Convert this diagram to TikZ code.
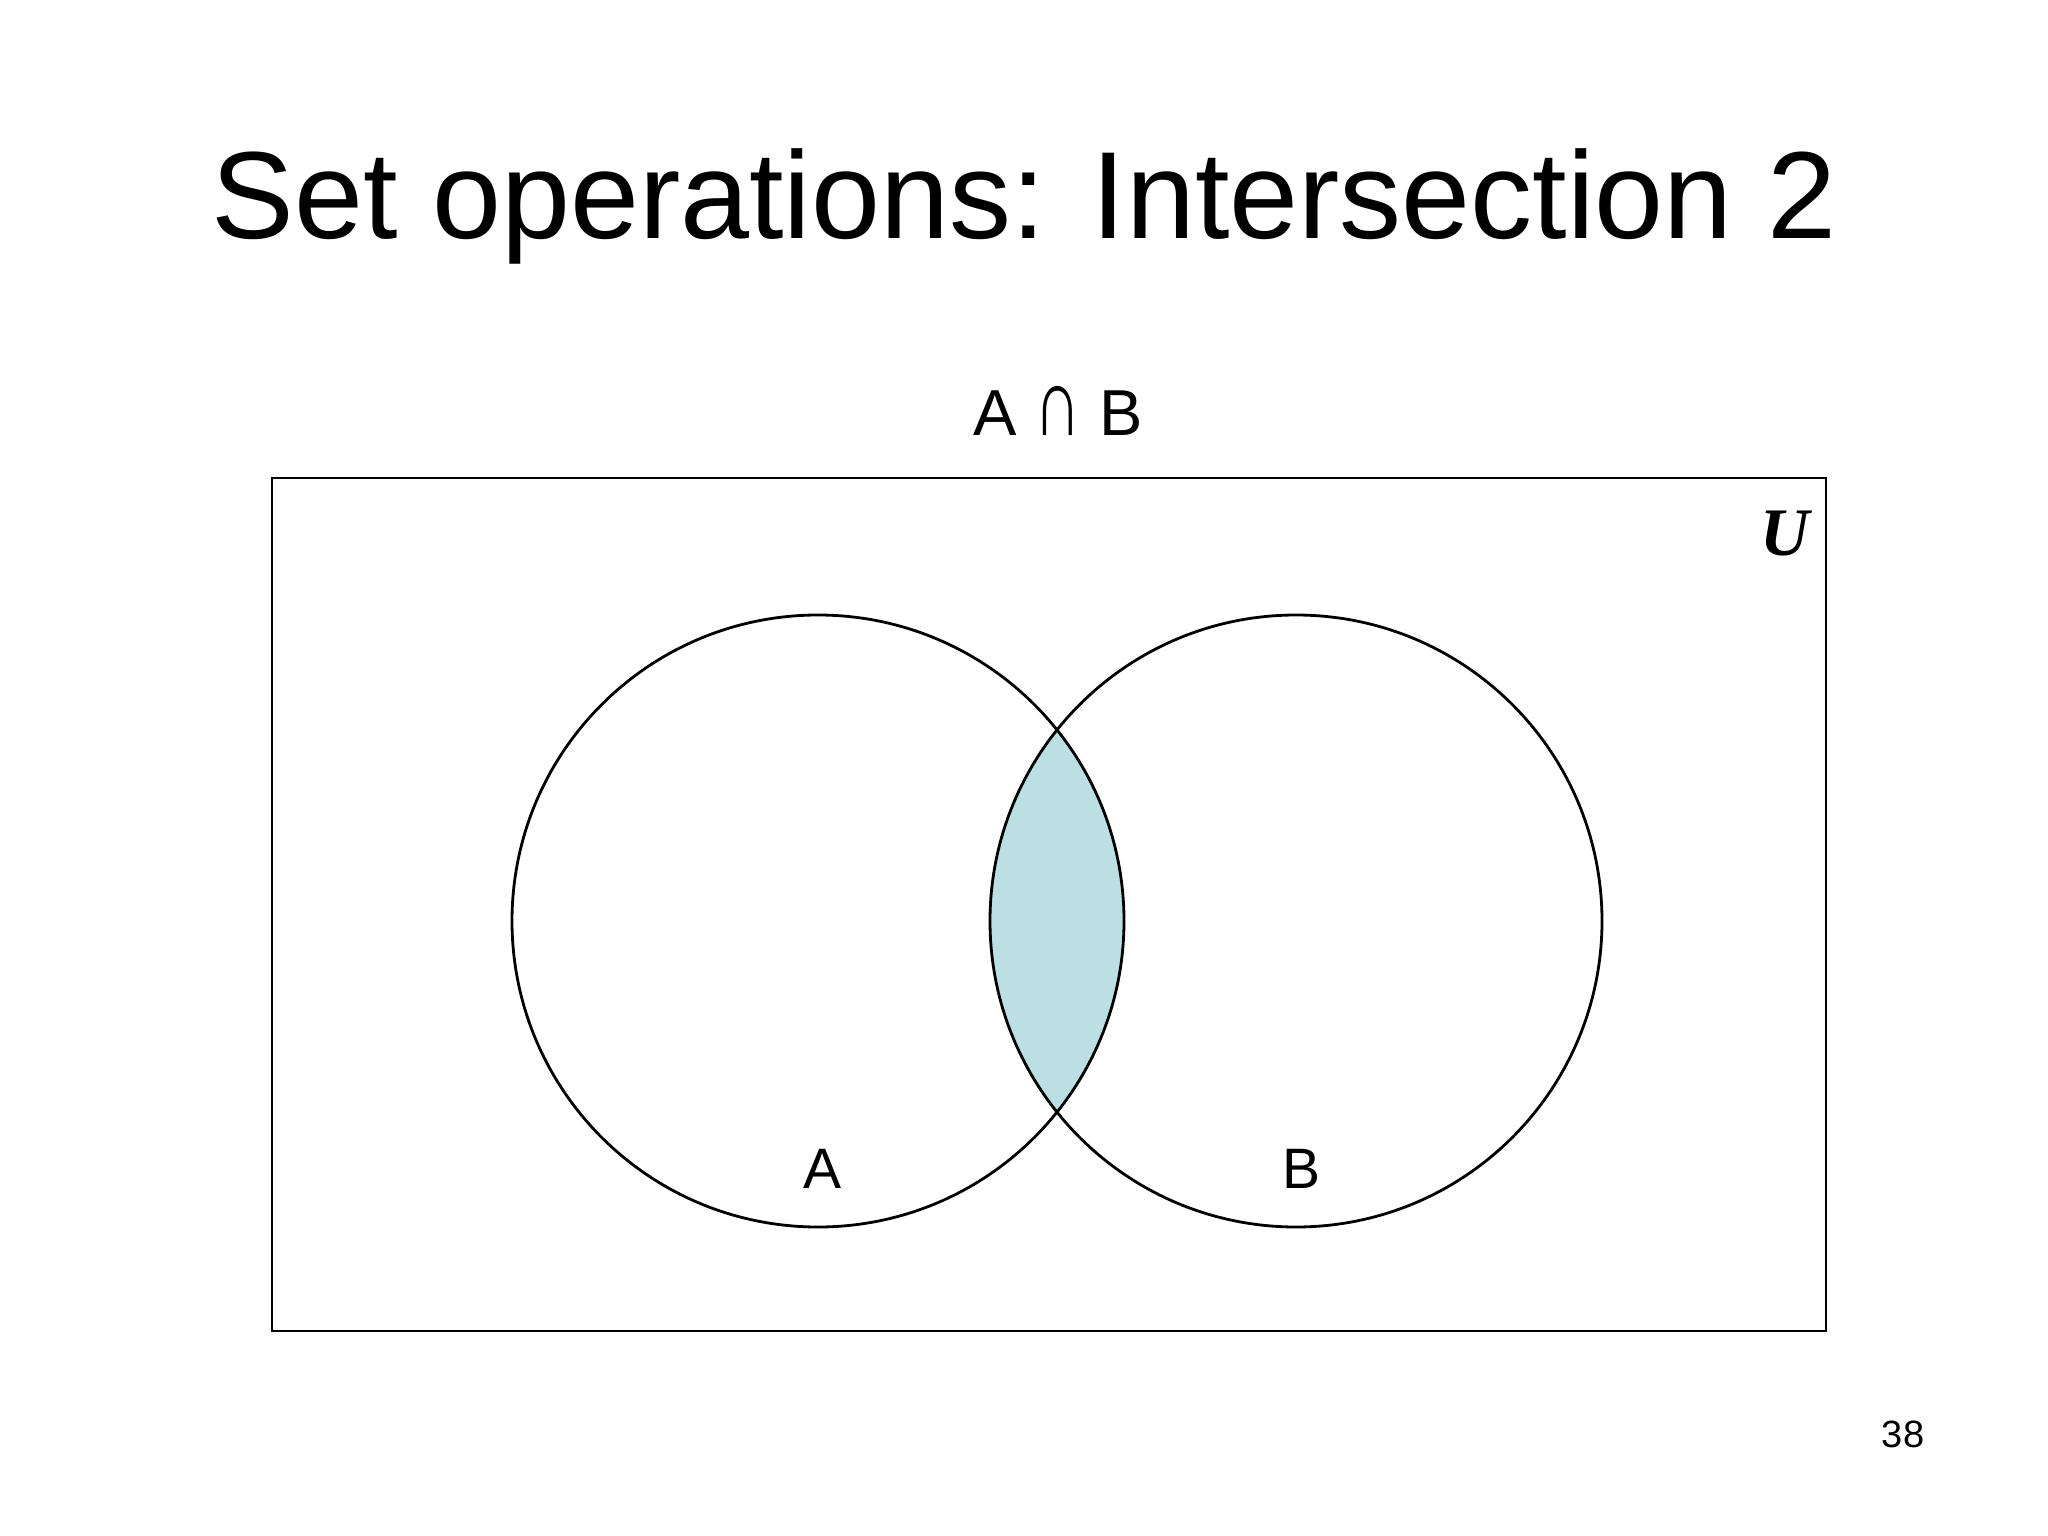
\documentclass[tikz,border=0pt]{standalone}
\usepackage{graphicx}
\usepackage{fontspec}
\setmainfont{Liberation Sans}
\newfontfamily\userif{Liberation Serif}
\definecolor{lensfill}{HTML}{BBDFE3}
\begin{document}
\begin{tikzpicture}[x=1pt,y=-1pt,
  setcircle/.style={circle,draw=black,line width=2.8pt,minimum size=612pt,inner sep=0pt},
  lbl/.style={anchor=base,inner sep=0pt}]
\useasboundingbox (0,0) rectangle (2048,1536);
\fill[white] (0,0) rectangle (2048,1536);
% shaded intersection
\begin{scope}
  \clip (818,921) circle (306);
  \fill[lensfill] (1296,921) circle (306);
\end{scope}
\node[draw=black,line width=2.5pt,minimum width=1554pt,minimum height=853pt,inner sep=0pt] (U) at (1049,904.5) {};
\node[setcircle] (A) at (818,921) {};
\node[setcircle] (B) at (1296,921) {};
\node[lbl] (title) at (1024,238) {\fontsize{124}{150}\selectfont Set operations: Intersection 2};
\node[lbl] (sub) at (1058,435) {\fontsize{65}{78}\selectfont A \scalebox{1}[1.5]{∩} B};
\node[lbl] (ulabel) at (1785,555) {\userif\bfseries\itshape\fontsize{68}{80}\selectfont U};
\node[lbl] (alabel) at (822,1188) {\fontsize{57}{68}\selectfont A};
\node[lbl] (blabel) at (1301,1188) {\fontsize{57}{68}\selectfont B};
\node[lbl] (page) at (1903,1447) {\fontsize{38}{46}\selectfont 38};
\end{tikzpicture}
\end{document}
